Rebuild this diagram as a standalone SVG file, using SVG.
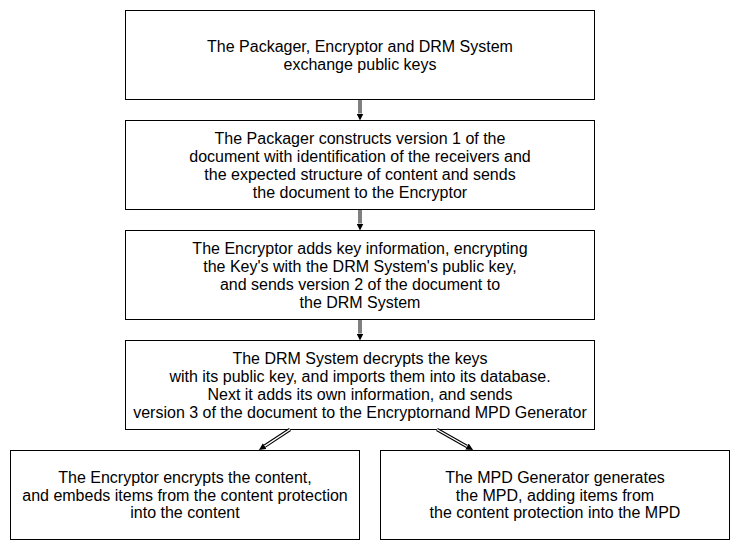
<svg xmlns="http://www.w3.org/2000/svg" width="740" height="550" viewBox="0 0 740 550">
<defs>
<marker id="ah" markerUnits="userSpaceOnUse" viewBox="0 0 7 7" refX="0" refY="3.5" markerWidth="7" markerHeight="7" orient="auto">
<path d="M0,0 L7,3.5 L0,7 z" fill="#000"/>
</marker>
<style>
.box{fill:#fff;stroke:#000;stroke-width:1}
.t{font-family:"Liberation Sans",Arial,sans-serif;font-size:16px;fill:#000;text-anchor:middle}
.v{fill:none;stroke:#808080;stroke-width:4;stroke-linecap:butt}
.dOut{fill:none;stroke:#000;stroke-width:3.6;stroke-linecap:butt}
.dIn{fill:none;stroke:#fff;stroke-width:1.4;stroke-linecap:butt}
</style>
</defs>
<rect width="740" height="550" fill="#fff"/>
<g id="n1">
<rect class="box" x="125.5" y="10.5" width="469" height="89"/>
<text class="t" x="360" y="52"><tspan x="360">The Packager, Encryptor and DRM System</tspan><tspan x="360" dy="17.8">exchange public keys</tspan></text>
</g>
<g id="n2">
<rect class="box" x="125.5" y="120.5" width="469" height="89"/>
<text class="t" x="360" y="144.3"><tspan x="360">The Packager constructs version 1 of the</tspan><tspan x="360" dy="17.8">document with identification of the receivers and</tspan><tspan x="360" dy="17.8">the expected structure of content and sends</tspan><tspan x="360" dy="17.8">the document to the Encryptor</tspan></text>
</g>
<g id="n3">
<rect class="box" x="125.5" y="230.5" width="469" height="89"/>
<text class="t" x="360" y="254.3"><tspan x="360">The Encryptor adds key information, encrypting</tspan><tspan x="360" dy="17.8">the Key's with the DRM System's public key,</tspan><tspan x="360" dy="17.8">and sends version 2 of the document to</tspan><tspan x="360" dy="17.8">the DRM System</tspan></text>
</g>
<g id="n4">
<rect class="box" x="125.5" y="340.5" width="469" height="89"/>
<text class="t" x="360" y="364.3"><tspan x="360">The DRM System decrypts the keys</tspan><tspan x="360" dy="17.8">with its public key, and imports them into its database.</tspan><tspan x="360" dy="17.8">Next it adds its own information, and sends</tspan><tspan x="360" dy="17.8">version 3 of the document to the Encryptornand MPD Generator</tspan></text>
</g>
<g id="n5">
<rect class="box" x="10.5" y="450.5" width="349" height="89"/>
<text class="t" x="185" y="482.7"><tspan x="185">The Encryptor encrypts the content,</tspan><tspan x="185" dy="17.8">and embeds items from the content protection</tspan><tspan x="185" dy="17.8">into the content</tspan></text>
</g>
<g id="n6">
<rect class="box" x="380.5" y="450.5" width="349" height="89"/>
<text class="t" x="555" y="482.7"><tspan x="555">The MPD Generator generates</tspan><tspan x="555" dy="17.8">the MPD, adding items from</tspan><tspan x="555" dy="17.8">the content protection into the MPD</tspan></text>
</g>
<g id="connectors">
<path class="v" d="M360,100 L360,113.5" marker-end="url(#ah)"/>
<path class="v" d="M360,210 L360,223.5" marker-end="url(#ah)"/>
<path class="v" d="M360,320 L360,333.5" marker-end="url(#ah)"/>
<path class="dOut" d="M290,429.5 L264.8,446.1" marker-end="url(#ah)"/>
<path class="dIn" d="M290,429.5 L264.8,446.1"/>
<path class="dOut" d="M437,429.5 L467,446.5" marker-end="url(#ah)"/>
<path class="dIn" d="M437,429.5 L467,446.5"/>
</g>
</svg>
